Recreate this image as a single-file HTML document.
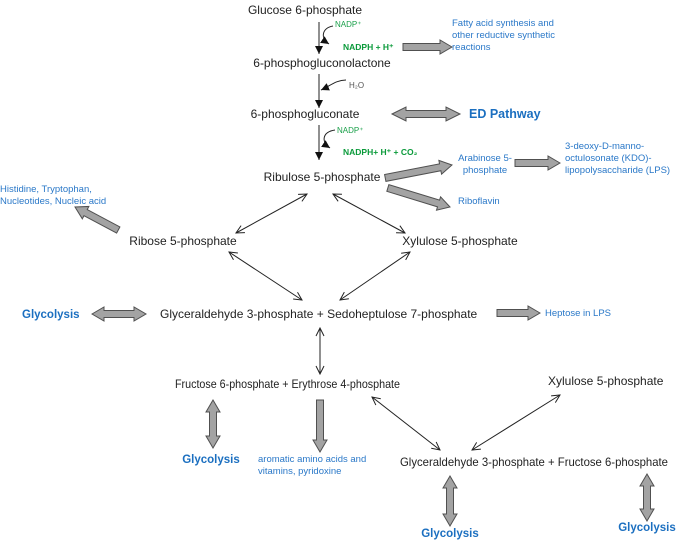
<!DOCTYPE html>
<html><head><meta charset="utf-8"><style>
html,body{margin:0;padding:0;background:#fff;width:685px;height:545px;overflow:hidden}
text{font-family:"Liberation Sans",Arial,sans-serif}
.k{font-size:12px;fill:#222}
.b{font-size:9.5px;fill:#2a78c8}
.bb{font-size:11.5px;fill:#1b6fc0;font-weight:bold}
.g{font-size:8px;fill:#1aa04a}
.gb{font-size:8.5px;fill:#0a9a3a;font-weight:bold}
.ga{fill:#a3a3a3;stroke:#505050;stroke-width:1}
.t{stroke:#222;stroke-width:1;fill:none}
</style></head><body>
<svg width="685" height="545" viewBox="0 0 685 545" xmlns="http://www.w3.org/2000/svg">
<defs>
<marker id="ah" markerWidth="10" markerHeight="10" refX="9" refY="5" orient="auto-start-reverse" markerUnits="userSpaceOnUse">
<path d="M1,1 L9,5 L1,9" fill="none" stroke="#222" stroke-width="1"/></marker>
<marker id="fh" markerWidth="10" markerHeight="10" refX="8" refY="5" orient="auto" markerUnits="userSpaceOnUse">
<path d="M0,1 L8,5 L0,9 Z" fill="#111"/></marker>
</defs>

<text class="k" x="305" y="14" text-anchor="middle">Glucose 6-phosphate</text>
<text class="g" x="335" y="27">NADP⁺</text>
<text class="gb" x="343" y="50">NADPH + H⁺</text>
<text class="b" x="452" y="26">Fatty acid synthesis and</text>
<text class="b" x="452" y="38">other reductive synthetic</text>
<text class="b" x="452" y="50">reactions</text>
<text class="k" x="322" y="67" text-anchor="middle">6-phosphogluconolactone</text>
<text x="349" y="88" style="font-size:8px;fill:#555">H₂O</text>
<text class="k" x="305" y="118" text-anchor="middle">6-phosphogluconate</text>
<text class="bb" x="469" y="118" style="font-size:12.5px">ED Pathway</text>
<text class="g" x="337" y="133">NADP⁺</text>
<text class="gb" x="343" y="155">NADPH+ H⁺  + CO₂</text>
<text class="k" x="322" y="181" text-anchor="middle">Ribulose 5-phosphate</text>
<text class="b" x="485" y="161" text-anchor="middle">Arabinose 5-</text>
<text class="b" x="485" y="173" text-anchor="middle">phosphate</text>
<text class="b" x="565" y="149">3-deoxy-D-manno-</text>
<text class="b" x="565" y="161">octulosonate (KDO)-</text>
<text class="b" x="565" y="173">lipopolysaccharide (LPS)</text>
<text class="b" x="458" y="204">Riboflavin</text>
<text class="b" x="0" y="192">Histidine, Tryptophan,</text>
<text class="b" x="0" y="204">Nucleotides, Nucleic acid</text>
<text class="k" x="183" y="245" text-anchor="middle">Ribose 5-phosphate</text>
<text class="k" x="460" y="245" text-anchor="middle">Xylulose 5-phosphate</text>
<text class="bb" x="22" y="318">Glycolysis</text>
<text class="k" x="160" y="318">Glyceraldehyde  3-phosphate + Sedoheptulose 7-phosphate</text>
<text class="b" x="545" y="316">Heptose in LPS</text>
<text class="k" x="175" y="388" textLength="225" lengthAdjust="spacingAndGlyphs">Fructose 6-phosphate + Erythrose 4-phosphate</text>
<text class="k" x="548" y="385">Xylulose 5-phosphate</text>
<text class="bb" x="211" y="463" text-anchor="middle">Glycolysis</text>
<text class="b" x="258" y="462">aromatic amino acids and</text>
<text class="b" x="258" y="474">vitamins, pyridoxine</text>
<text class="k" x="400" y="466" textLength="268" lengthAdjust="spacingAndGlyphs">Glyceraldehyde  3-phosphate + Fructose 6-phosphate</text>
<text class="bb" x="450" y="537" text-anchor="middle">Glycolysis</text>
<text class="bb" x="647" y="531" text-anchor="middle">Glycolysis</text>

<line class="t" x1="319" y1="22" x2="319" y2="54" marker-end="url(#fh)"/>
<path d="M333,26 C322,28 320,38 329,44" class="t" marker-end="url(#fh)"/>
<line class="t" x1="319" y1="74" x2="319" y2="108" marker-end="url(#fh)"/>
<path d="M346,80 C336,80 330,86 321,90" class="t" marker-end="url(#fh)"/>
<line class="t" x1="319" y1="125" x2="319" y2="160" marker-end="url(#fh)"/>
<path d="M335,130 C322,132 321,142 330,148" class="t" marker-end="url(#fh)"/>

<g transform="translate(452,47)"><polygon class="ga" points="0,0 -12,-7 -12,-3.5 -49,-3.5 -49,3.5 -12,3.5 -12,7"/></g>
<g transform="translate(452,165) rotate(-11)"><polygon class="ga" points="0,0 -12,-7 -12,-3.5 -68,-3.5 -68,3.5 -12,3.5 -12,7"/></g>
<g transform="translate(560,163)"><polygon class="ga" points="0,0 -12,-7 -12,-3.5 -45,-3.5 -45,3.5 -12,3.5 -12,7"/></g>
<g transform="translate(450,207) rotate(17)"><polygon class="ga" points="0,0 -12,-7 -12,-3.5 -65,-3.5 -65,3.5 -12,3.5 -12,7"/></g>
<g transform="translate(75,207) rotate(208)"><polygon class="ga" points="0,0 -12,-7 -12,-3.5 -49,-3.5 -49,3.5 -12,3.5 -12,7"/></g>
<g transform="translate(540,313)"><polygon class="ga" points="0,0 -12,-7 -12,-3.5 -43,-3.5 -43,3.5 -12,3.5 -12,7"/></g>
<g transform="translate(320,452) rotate(90)"><polygon class="ga" points="0,0 -12,-7 -12,-3.5 -52,-3.5 -52,3.5 -12,3.5 -12,7"/></g>

<g transform="translate(392,114)"><polygon class="ga" points="0,0 14,-7 14,-3.5 54,-3.5 54,-7 68,0 54,7 54,3.5 14,3.5 14,7"/></g>
<g transform="translate(92,314)"><polygon class="ga" points="0,0 12,-7 12,-3.5 42,-3.5 42,-7 54,0 42,7 42,3.5 12,3.5 12,7"/></g>
<g transform="translate(213,400) rotate(90)"><polygon class="ga" points="0,0 12,-7 12,-3.5 36,-3.5 36,-7 48,0 36,7 36,3.5 12,3.5 12,7"/></g>
<g transform="translate(450,476) rotate(90)"><polygon class="ga" points="0,0 12,-7 12,-3.5 38,-3.5 38,-7 50,0 38,7 38,3.5 12,3.5 12,7"/></g>
<g transform="translate(647,474) rotate(90)"><polygon class="ga" points="0,0 12,-7 12,-3.5 35,-3.5 35,-7 47,0 35,7 35,3.5 12,3.5 12,7"/></g>

<line class="t" x1="236" y1="233" x2="307" y2="194" marker-start="url(#ah)" marker-end="url(#ah)"/>
<line class="t" x1="333" y1="194" x2="405" y2="233" marker-start="url(#ah)" marker-end="url(#ah)"/>
<line class="t" x1="229" y1="252" x2="302" y2="300" marker-start="url(#ah)" marker-end="url(#ah)"/>
<line class="t" x1="410" y1="252" x2="340" y2="300" marker-start="url(#ah)" marker-end="url(#ah)"/>
<line class="t" x1="320" y1="328" x2="320" y2="374" marker-start="url(#ah)" marker-end="url(#ah)"/>
<line class="t" x1="372" y1="397" x2="440" y2="450" marker-start="url(#ah)" marker-end="url(#ah)"/>
<line class="t" x1="472" y1="450" x2="560" y2="395" marker-start="url(#ah)" marker-end="url(#ah)"/>
</svg>
</body></html>
